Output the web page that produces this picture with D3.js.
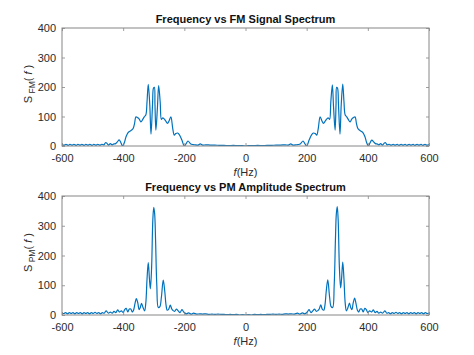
<!DOCTYPE html>
<html>
<head>
<meta charset="utf-8">
<script src="https://cdn.jsdelivr.net/npm/d3@7"></script>
<style>
  html, body { margin: 0; padding: 0; background: #fff; }
  svg { display: block; font-family: "Liberation Sans", Arial, sans-serif; }
</style>
</head>
<body>
<svg id="chart" width="474" height="355"></svg>
<script>
// ---------- data ----------
const xTicks = [-600, -400, -200, 0, 200, 400, 600];
const xTickLabels = ["-600", "-400", "-200", "0", "200", "400", "600"];
const yTicks = [0, 100, 200, 300, 400];
const yTickLabels = ["0", "100", "200", "300", "400"];
const titles = ["Frequency vs FM Signal Spectrum", "Frequency vs PM Amplitude Spectrum"];
const ySubs = ["FM", "PM"];

// FM signal spectrum [f (Hz), |S_FM(f)|]
const fmSpectrum = [
  [-600,5],[-593,3],[-587,6],[-580,2],[-574,6],[-567,3],[-561,6],[-554,2],[-548,6],[-541,3],
  [-535,6],[-528,2],[-522,6],[-515,3],[-509,6],[-502,2],[-496,6],[-489,3],[-483,6],[-476,3],
  [-470,6],[-463,4],[-458,11],[-454,10],[-448,3],[-442,8],[-436,4],[-430,7],[-425,8],[-419,14],
  [-413,21],[-407,10],[-402,0],[-396,12],[-391,30],[-385,44],[-378,50],[-372,54],[-367,60],[-363,75],
  [-358,99],[-353,96],[-348,92],[-342,82],[-336,90],[-331,99],[-326,105],[-322,150],[-318,209],[-313,140],
  [-309,40],[-304,140],[-301,196],[-298,199],[-296,140],[-293,54],[-288,130],[-284,205],[-279,150],[-275,90],
  [-271,95],[-266,92],[-261,85],[-255,77],[-250,85],[-244,99],[-238,60],[-233,37],[-228,42],[-222,44],
  [-216,38],[-208,20],[-200,0],[-194,8],[-188,17],[-180,8],[-172,5],[-165,4],[-155,3],[-148,7],
  [-140,3],[-130,4],[-115,3],[-100,3],[-85,2],[-70,2],[-55,1],[-40,2],[-25,1],[-10,1],
  [0,0],
  [10,1],[25,1],[40,2],[55,1],[70,2],[85,2],[100,3],[115,3],[130,4],[140,3],
  [148,7],[155,3],[165,4],[172,5],[180,8],[188,17],[194,8],[200,0],[208,20],[216,38],
  [222,44],[228,42],[233,37],[238,60],[244,99],[250,85],[255,77],[261,85],[266,92],[271,95],
  [275,90],[279,150],[284,207],[288,130],[293,54],[296,140],[298,199],[301,196],[304,140],[309,40],
  [313,140],[318,210],[322,150],[326,105],[331,99],[336,90],[342,82],[348,92],[353,96],[358,99],
  [363,75],[367,60],[372,54],[378,50],[385,44],[391,30],[396,12],[402,0],[407,10],[413,20],
  [419,14],[425,8],[430,7],[436,4],[442,8],[448,3],[454,10],[458,11],[463,4],[470,6],
  [476,3],[483,6],[489,3],[496,6],[502,2],[509,6],[515,3],[522,6],[528,2],[535,6],
  [541,3],[548,6],[554,2],[561,6],[567,3],[574,6],[580,2],[587,6],[593,3],[600,5]
];

// PM amplitude spectrum [f (Hz), |S_PM(f)|]
const pmSpectrum = [
  [-600,7],[-594,5],[-588,8],[-582,4],[-576,8],[-570,5],[-564,8],[-558,4],[-552,8],[-546,5],
  [-540,8],[-534,4],[-528,8],[-522,5],[-516,8],[-510,4],[-504,8],[-498,5],[-492,9],[-486,5],
  [-480,8],[-474,4],[-468,8],[-462,6],[-456,14],[-448,6],[-442,10],[-436,6],[-430,12],[-424,8],
  [-418,17],[-412,10],[-406,14],[-400,8],[-395,18],[-390,22],[-385,10],[-380,20],[-375,20],[-370,10],
  [-366,16],[-361,40],[-357,55],[-352,40],[-348,18],[-344,25],[-340,39],[-335,25],[-330,14],[-326,40],
  [-322,120],[-318,176],[-314,120],[-311,88],[-307,160],[-303,320],[-300,362],[-297,340],[-294,250],[-290,100],
  [-285,25],[-280,28],[-275,60],[-269,117],[-264,80],[-260,35],[-256,16],[-251,20],[-246,33],[-241,20],
  [-238,16],[-232,12],[-226,20],[-220,14],[-214,8],[-208,18],[-202,10],[-194,4],[-186,7],[-178,3],
  [-170,6],[-160,3],[-150,4],[-140,3],[-130,4],[-120,2],[-110,3],[-100,2],[-90,3],[-80,2],
  [-70,2],[-60,1],[-50,2],[-40,1],[-30,2],[-20,0],[-10,1],
  [0,0],
  [10,1],[20,0],[30,2],[40,1],[50,2],[60,1],[70,2],[80,2],[90,3],[100,2],
  [110,3],[120,2],[130,4],[140,3],[150,4],[160,3],[170,6],[178,3],[186,7],[194,4],
  [202,10],[208,18],[214,8],[220,14],[226,20],[232,12],[238,16],[241,20],[246,34],[251,20],
  [256,16],[260,35],[264,80],[269,118],[275,60],[280,28],[285,25],[290,100],[294,250],[297,340],
  [300,364],[303,320],[307,160],[311,91],[314,120],[318,178],[322,120],[326,40],[330,14],[335,25],
  [340,40],[344,25],[348,18],[352,40],[357,57],[361,40],[366,16],[370,10],[375,20],[380,20],
  [385,10],[390,22],[395,18],[400,8],[406,14],[412,10],[418,17],[424,8],[430,12],[436,6],
  [442,10],[448,6],[456,14],[462,6],[468,8],[474,4],[480,8],[486,5],[492,9],[498,5],
  [504,8],[510,4],[516,8],[522,5],[528,8],[534,4],[540,8],[546,5],[552,8],[558,4],
  [564,8],[570,5],[576,8],[582,4],[588,8],[594,5],[600,7]
];

// ---------- drawing ----------
const svg = d3.select("#chart");
const panels = [
  { top: 28, bottom: 146, data: fmSpectrum, title: titles[0], sub: ySubs[0] },
  { top: 196, bottom: 315, data: pmSpectrum, title: titles[1], sub: ySubs[1] }
];
const left = 62, right = 429;
const lineColor = "#0072BD";
const axisColor = "#868686";
const textColor = "#2b2b2b";

panels.forEach(p => {
  const x = d3.scaleLinear().domain([-600, 600]).range([left, right]);
  const y = d3.scaleLinear().domain([0, 400]).range([p.bottom, p.top]);
  const g = svg.append("g");

  // clip
  const clipId = "clip" + p.top;
  svg.append("clipPath").attr("id", clipId)
    .append("rect").attr("x", left).attr("y", p.top)
    .attr("width", right - left).attr("height", p.bottom - p.top);

  // data line
  const line = d3.line()
    .x(d => x(d[0])).y(d => y(d[1]))
    .curve(d3.curveCatmullRom.alpha(0.5));
  g.append("path")
    .datum(p.data)
    .attr("clip-path", `url(#${clipId})`)
    .attr("fill", "none")
    .attr("stroke", lineColor)
    .attr("stroke-width", 1.2)
    .attr("stroke-linejoin", "round")
    .attr("d", line);

  // axes (ticks inward on all four sides)
  const tl = 3;
  const axB = d3.axisBottom(x).tickValues(xTicks).tickSize(-tl).tickPadding(6)
    .tickFormat((d, i) => xTickLabels[i]);
  const axT = d3.axisTop(x).tickValues(xTicks).tickSize(-tl).tickFormat("");
  const axL = d3.axisLeft(y).tickValues(yTicks).tickSize(-tl).tickPadding(6)
    .tickFormat((d, i) => yTickLabels[i]);
  const axR = d3.axisRight(y).tickValues(yTicks).tickSize(-tl).tickFormat("");

  const gB = g.append("g").attr("transform", `translate(0,${p.bottom})`).call(axB);
  const gT = g.append("g").attr("transform", `translate(0,${p.top})`).call(axT);
  const gL = g.append("g").attr("transform", `translate(${left},0)`).call(axL);
  const gR = g.append("g").attr("transform", `translate(${right},0)`).call(axR);
  [gB, gT, gL, gR].forEach(a => {
    a.select(".domain").remove();
    a.selectAll(".tick line").attr("stroke", axisColor).attr("stroke-width", 0.8);
    a.selectAll(".tick text").attr("fill", textColor)
      .style("font-size", "11px").style("font-family", '"Liberation Sans", Arial, sans-serif');
  });
  gB.selectAll(".tick text").attr("dy", "0.95em");

  // box
  g.append("rect")
    .attr("x", left).attr("y", p.top)
    .attr("width", right - left).attr("height", p.bottom - p.top)
    .attr("fill", "none").attr("stroke", axisColor).attr("stroke-width", 1);

  // title
  g.append("text")
    .attr("x", (left + right) / 2).attr("y", p.top - 5)
    .attr("text-anchor", "middle")
    .attr("fill", "#111")
    .style("font-size", "11px").style("font-weight", "bold")
    .text(p.title);

  // x label
  const xl = g.append("text")
    .attr("x", (left + right) / 2).attr("y", p.bottom + 30)
    .attr("text-anchor", "middle").attr("fill", textColor)
    .style("font-size", "11px");
  xl.append("tspan").style("font-style", "italic").text("f");
  xl.append("tspan").text("(Hz)");

  // y label
  const yl = g.append("text")
    .attr("transform", `translate(32,${(p.top + p.bottom) / 2 - 3}) rotate(-90)`)
    .attr("text-anchor", "middle").attr("fill", textColor)
    .style("font-size", "11px");
  yl.append("tspan").text("S");
  yl.append("tspan").attr("dy", "0.35em").style("font-size", "8.5px").text(" " + p.sub);
  yl.append("tspan").attr("dy", "-0.3em").text("( ");
  yl.append("tspan").style("font-style", "italic").text("f");
  yl.append("tspan").text(" )");
});
</script>
</body>
</html>
